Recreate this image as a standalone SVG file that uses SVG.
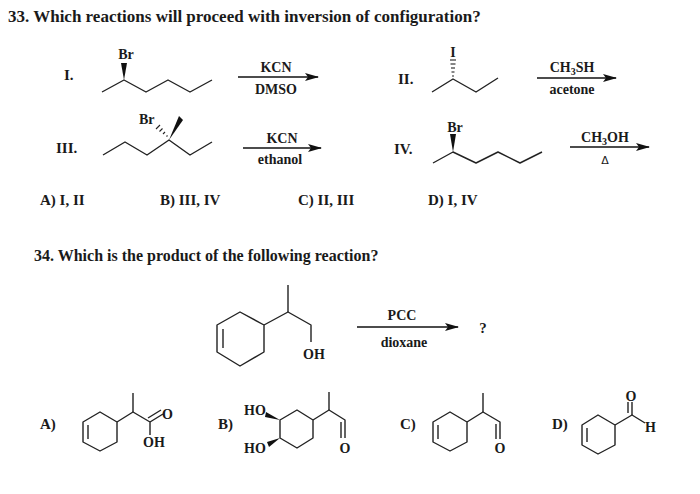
<svg xmlns="http://www.w3.org/2000/svg" width="700" height="494" viewBox="0 0 700 494">
<defs>
<marker id="ah" markerWidth="14" markerHeight="8" refX="13" refY="4" orient="auto" markerUnits="userSpaceOnUse"><path d="M0,0 L14,4 L0,8 L3,4 Z" fill="#111"/></marker>
<style>
text{font-family:"Liberation Serif","DejaVu Serif",serif;font-weight:bold;fill:#1a1a1a}
.t{font-size:17px}
.t2{font-size:16px}
.l{font-size:15px}
.s{font-size:14px}
.b{fill:none;stroke:#222;stroke-width:1.4;stroke-linejoin:round}
.a{stroke:#111;stroke-width:1.3;fill:none;marker-end:url(#ah)}
.m{text-anchor:middle}
.h{stroke:#222;stroke-width:1.1}
</style>
</defs>
<rect width="700" height="494" fill="#fff"/>
<text class="t" x="8" y="22">33. Which reactions will proceed with inversion of configuration?</text>

<g id="molI">
<text class="l" x="64" y="80">I.</text>
<polyline class="b" points="102,92 124,80 146,92 168,80 190,92 212,80"/>
<polygon points="124,80 121,63 127,63" fill="#111"/>
<text class="s m" x="126" y="59">Br</text>
</g>
<g id="molII">
<text class="l" x="398" y="84">II.</text>
<polyline class="b" points="432,92 453,79 476,92 498,78"/>
<g class="h"><line x1="452" y1="76" x2="454" y2="76"/><line x1="451.5" y1="72" x2="454.5" y2="72"/><line x1="451" y1="68" x2="455" y2="68"/><line x1="450.5" y1="64" x2="455.5" y2="64"/><line x1="450" y1="60" x2="456" y2="60"/></g>
<text class="s m" x="453" y="57">I</text>
</g>
<g id="molIII">
<text class="l" x="56" y="153">III.</text>
<polyline class="b" points="103,155 125,142 147,155 169,140 190,155 212,142"/>
<polygon points="169,140 179,116 183,120" fill="#111"/>
<g class="h"><line x1="166.5" y1="136.5" x2="167.5" y2="135.5"/><line x1="163" y1="134" x2="165" y2="132"/><line x1="159.5" y1="131.5" x2="162.5" y2="128.5"/><line x1="156" y1="129" x2="160" y2="125"/></g>
<text class="s" x="139" y="124">Br</text>
</g>
<g id="molIV">
<text class="l" x="394" y="154">IV.</text>
<polyline class="b" points="433,163 453,152 476,163 498,152 520,163 542,152"/>
<polygon points="453,152 450,134 456,134" fill="#111"/>
<text class="s m" x="455" y="132">Br</text>
</g>

<g id="connectors">
<line class="a" x1="238" y1="77" x2="318" y2="77"/>
<line class="a" x1="243" y1="148" x2="321" y2="148"/>
<line class="a" x1="537" y1="78" x2="616" y2="78"/>
<line class="a" x1="570" y1="147" x2="649" y2="147"/>
<line class="a" x1="357" y1="327" x2="458" y2="327"/>
</g>
<g id="conds">
<text class="s m" x="276" y="72">KCN</text>
<text class="s m" x="276" y="94">DMSO</text>
<text class="s m" x="282" y="143">KCN</text>
<text class="s m" x="280" y="164">ethanol</text>
<text class="s m" x="572" y="72">CH<tspan font-size="10" dy="3">3</tspan><tspan dy="-3">SH</tspan></text>
<text class="s m" x="572" y="94">acetone</text>
<text class="s m" x="605" y="142">CH<tspan font-size="10" dy="3">3</tspan><tspan dy="-3">OH</tspan></text>
<text class="s m" x="605" y="164" style="font-weight:normal;font-family:'DejaVu Sans',sans-serif;font-size:11px">Δ</text>
<text class="s m" x="402" y="320">PCC</text>
<text class="s m" x="404" y="347">dioxane</text>
<text class="l m" x="483" y="333">?</text>
</g>

<text class="l" x="40" y="205">A) I, II</text>
<text class="l" x="160" y="205">B) III, IV</text>
<text class="l" x="298" y="205">C) II, III</text>
<text class="l" x="428" y="205">D) I, IV</text>

<text class="t2" x="34" y="261">34. Which is the product of the following reaction?</text>

<g id="reactant">
<polygon class="b" points="240,312 264,325 264,352 240,366 217,352 217,325"/>
<line class="b" x1="223" y1="329" x2="223" y2="348"/>
<polyline class="b" points="264,325 288,312 311,325 311,342"/>
<line class="b" x1="288" y1="312" x2="288" y2="285"/>
<text class="s m" x="314" y="359">OH</text>
</g>

<g id="optA">
<text class="l" x="40" y="429">A)</text>
<polygon class="b" points="100,412 117,422 117,442 100,451 83,442 83,422"/>
<line class="b" x1="88" y1="425" x2="88" y2="439"/>
<polyline class="b" points="117,422 133,412 150,422 150,435"/>
<line class="b" x1="133" y1="412" x2="133" y2="393"/>
<line class="b" x1="150" y1="422" x2="163" y2="414"/>
<line class="b" x1="148" y1="418" x2="161" y2="410"/>
<text class="s" x="162" y="419">O</text>
<text class="s m" x="154" y="447">OH</text>
</g>
<g id="optB">
<text class="l" x="218" y="429">B)</text>
<polygon class="b" points="297,410 313,420 313,438 297,448 280,438 280,420"/>
<polygon points="280,420 266,412 265,417" fill="#111"/>
<polygon points="280,438 267,442 269,447" fill="#111"/>
<text class="s m" x="255" y="415">HO</text>
<text class="s m" x="255" y="453">HO</text>
<polyline class="b" points="313,420 329,410 345,420 345,438"/>
<line class="b" x1="329" y1="410" x2="329" y2="392"/>
<line class="b" x1="341" y1="422" x2="341" y2="438"/>
<text class="s m" x="345" y="453">O</text>
</g>
<g id="optC">
<text class="l" x="400" y="429">C)</text>
<polygon class="b" points="450,412 467,422 467,442 450,451 433,442 433,422"/>
<line class="b" x1="438" y1="425" x2="438" y2="439"/>
<polyline class="b" points="467,422 483,412 500,422 500,439"/>
<line class="b" x1="483" y1="412" x2="483" y2="393"/>
<line class="b" x1="496" y1="424" x2="496" y2="439"/>
<text class="s m" x="500" y="453">O</text>
</g>
<g id="optD">
<text class="l" x="552" y="429">D)</text>
<polygon class="b" points="598,415 615,425 615,445 598,454 582,445 582,425"/>
<line class="b" x1="587" y1="428" x2="587" y2="442"/>
<polyline class="b" points="615,425 632,415 645,423"/>
<line class="b" x1="632" y1="415" x2="632" y2="402"/>
<line class="b" x1="628" y1="413" x2="628" y2="402"/>
<text class="s m" x="631" y="401">O</text>
<text class="s" x="645" y="432">H</text>
</g>
</svg>
